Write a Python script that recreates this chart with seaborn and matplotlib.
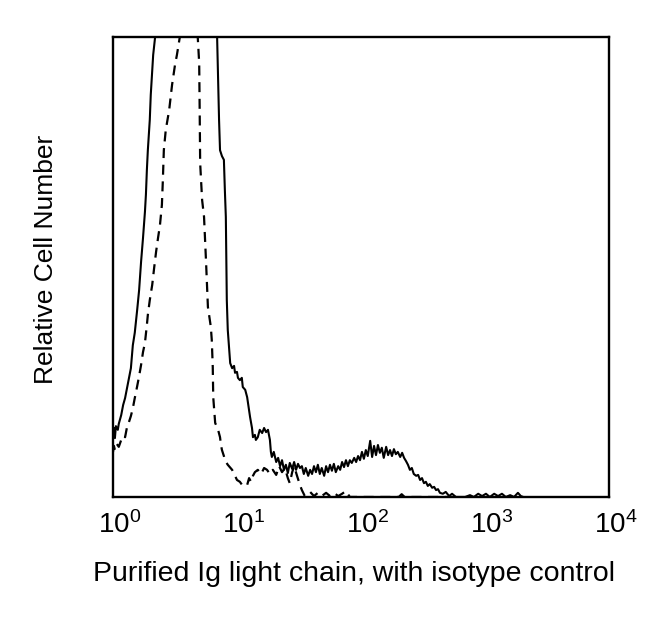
import numpy as np
import pandas as pd
import matplotlib
import matplotlib.pyplot as plt
import matplotlib.transforms as mtransforms
import seaborn as sns

matplotlib.use('Agg')

# histogram channels (0-1023 over 4 decades) and relative counts
stained_channel = [0, 2, 4, 6, 10, 12, 17, 21, 25, 29, 33, 37, 41, 45, 50, 54, 58, 62, 66, 68,
                   70, 72, 74, 76, 78, 81, 83, 87, 95, 110, 130, 150, 170, 190, 205, 215, 217,
                   219, 221, 225, 229, 231, 233, 234, 235, 237, 240, 242, 246, 250, 252, 256,
                   258, 262, 266, 268, 273, 277, 281, 283, 287, 289, 293, 295, 299, 303, 308,
                   312, 316, 320, 324, 326, 328, 332, 337, 341, 345, 349, 353, 357, 361, 365,
                   370, 374, 378, 382, 386, 390, 394, 398, 403, 407, 411, 415, 419, 423, 427,
                   431, 436, 440, 444, 448, 452, 456, 460, 465, 469, 473, 477, 481, 485, 489,
                   493, 498, 502, 506, 510, 514, 518, 522, 526, 531, 535, 539, 543, 547, 551,
                   555, 559, 564, 568, 572, 576, 580, 584, 588, 593, 597, 601, 605, 609, 613,
                   617, 621, 626, 630, 634, 638, 642, 646, 650, 654, 659, 663, 667, 671, 675,
                   681, 687, 694, 700, 708, 727, 737, 745, 754, 762, 770, 778, 787, 795, 803,
                   811, 820, 828, 836, 842, 847]
stained_count = [14.1, 15.0, 12.8, 15.4, 14.6, 15.9, 17.8, 20.0, 21.5, 23.7, 25.9, 28.0, 33.0,
                 35.7, 40.7, 45.0, 51.1, 56.3, 62.0, 65.7, 71.1, 75.4, 78.7, 82.0, 87.4, 92.8,
                 96.1, 100, 115, 130, 140, 145, 140, 128, 112, 100, 90.7, 82.0, 75.4, 74.1,
                 73.3, 66.7, 60.9, 51.5, 42.8, 36.3, 32.0, 29.1, 28.0, 28.5, 27.0, 27.2, 25.9,
                 25.4, 25.9, 23.9, 23.3, 21.7, 18.9, 17.4, 15.0, 13.0, 13.5, 12.4, 13.0, 14.6,
                 13.9, 15.0, 14.1, 14.6, 12.4, 9.8, 8.7, 9.8, 7.6, 8.5, 6.7, 8.0, 5.9, 7.0,
                 5.2, 7.4, 6.1, 7.6, 5.9, 7.2, 6.3, 6.7, 5.0, 6.3, 4.6, 5.9, 5.0, 6.7, 5.4,
                 7.0, 5.0, 6.3, 4.6, 6.7, 5.4, 7.0, 5.7, 7.2, 5.4, 6.7, 5.9, 7.6, 6.5, 8.0,
                 6.7, 8.0, 7.4, 8.5, 7.6, 8.9, 8.0, 9.8, 8.3, 10.2, 8.9, 12.2, 8.7, 11.1, 9.1,
                 11.3, 9.6, 10.7, 8.5, 10.9, 9.1, 10.2, 8.9, 10.4, 9.3, 9.8, 8.7, 9.6, 8.5,
                 7.8, 7.0, 5.9, 6.3, 5.0, 4.6, 4.8, 3.7, 4.1, 3.0, 3.3, 2.4, 2.8, 2.0, 2.2,
                 1.5, 1.7, 0.9, 0.7, 1.1, 0.2, 0.7, 0.0, 0.0, 0.4, 0.0, 0.7, 0.2, 0.7, 0.0,
                 0.7, 0.2, 0.7, 0.0, 0.4, 0.0, 0.9, 0.2, 0.0]

isotype_channel = [0, 2, 4, 8, 12, 17, 21, 25, 29, 33, 37, 41, 45, 50, 54, 58, 62, 66, 70, 72,
                   76, 81, 85, 89, 93, 97, 101, 103, 105, 109, 116, 122, 128, 132, 138, 145,
                   155, 165, 175, 178, 179, 180, 184, 188, 192, 196, 202, 204, 206, 207, 211,
                   217, 221, 223, 225, 229, 231, 237, 246, 252, 256, 262, 268, 277, 281, 285,
                   289, 293, 299, 306, 312, 318, 324, 330, 337, 343, 349, 355, 361, 365, 370,
                   374, 380, 386, 390, 396, 407, 415, 423, 431, 440, 448, 456, 465, 473, 481,
                   489, 540, 590, 596, 602, 650, 700]
isotype_count = [9.8, 11.1, 10.2, 11.5, 10.9, 12.4, 13.3, 13.0, 15.2, 16.3, 17.6, 19.3, 21.5,
                 24.1, 26.3, 28.7, 31.5, 33.5, 37.4, 39.6, 42.8, 46.1, 49.8, 53.3, 56.3, 59.1,
                 63.5, 68.9, 75.4, 79.8, 84.1, 89.6, 93.9, 96.1, 100, 108, 115, 112, 100, 94.3,
                 84.1, 72.6, 64.6, 60.9, 51.5, 41.3, 37.0, 34.1, 28.3, 21.7, 16.1, 14.6, 13.0,
                 11.3, 10.2, 8.9, 8.0, 7.0, 5.9, 4.6, 3.7, 3.3, 2.4, 2.6, 4.1, 3.3, 4.6, 5.4,
                 5.9, 5.0, 6.3, 5.9, 5.0, 5.9, 4.8, 6.7, 5.4, 6.3, 4.1, 3.0, 5.4, 6.7, 4.6,
                 2.6, 1.5, 0.2, 1.1, 0.2, 0.9, 0.2, 0.9, 0.2, 0.9, 0.2, 0.7, 1.3, 0.0, 0.0,
                 0.0, 0.6, 0.0, 0.0, 0.0]

tick_values = [1, 10, 100, 1000, 10000]
tick_labels = ['10$^{0}$', '10$^{1}$', '10$^{2}$', '10$^{3}$', '10$^{4}$']

stained = pd.DataFrame({'intensity': 10 ** (np.array(stained_channel) / 256.0),
                        'count': stained_count})
isotype = pd.DataFrame({'intensity': 10 ** (np.array(isotype_channel) / 256.0),
                        'count': isotype_count})

sns.set_style('white')
plt.rcParams['font.family'] = ['Liberation Sans', 'DejaVu Sans']
plt.rcParams['mathtext.default'] = 'regular'
plt.rcParams['text.color'] = 'black'
plt.rcParams['xtick.color'] = 'black'
plt.rcParams['axes.labelcolor'] = 'black'

fig = plt.figure(figsize=(6.5, 6.22), dpi=100)
ax = fig.add_axes([0.1738, 0.2010, 0.7631, 0.7395])

sns.lineplot(data=stained, x='intensity', y='count', color='black', lw=1.5,
             estimator=None, sort=False, ax=ax)
sns.lineplot(data=isotype, x='intensity', y='count', color='black', lw=1.6,
             estimator=None, sort=False, ax=ax)
ax.lines[1].set_dashes((4.5, 3))

ax.set_xscale('log')
ax.set_xlim(1, 10000)
ax.set_ylim(0, 100)
ax.set_xticks(tick_values)
ax.set_xticklabels(tick_labels)
ax.minorticks_off()
ax.set_yticks([])
ax.tick_params(axis='x', length=0, pad=10, labelsize=20, labelcolor='black')

# the base "10" sits centred on each decade
shift = mtransforms.ScaledTranslation(7 / 100, 0, fig.dpi_scale_trans)
for lab in ax.get_xticklabels():
    lab.set_transform(lab.get_transform() + shift)

for sp in ax.spines.values():
    sp.set_visible(True)
    sp.set_color('black')
    sp.set_linewidth(1.7)
    sp.set_zorder(3)

ax.set_xlabel('Purified Ig light chain, with isotype control', fontsize=20.5)
ax.set_ylabel('Relative Cell Number', fontsize=19)
ax.xaxis.set_label_coords(0.486, -0.139)
ax.yaxis.set_label_coords(-0.111, 0.517)

plt.savefig('out.png', dpi=100)
